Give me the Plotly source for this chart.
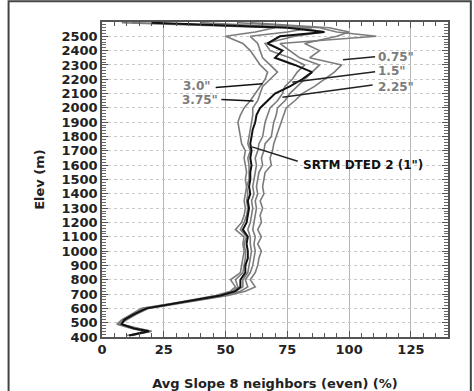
import plotly.graph_objects as go

# Elevation (m) sample levels shared by all series
elev = [410, 440, 460, 490, 520, 560, 600, 630, 660, 690, 720, 750,
        800, 850, 900, 950, 1000, 1050, 1100, 1150, 1200, 1250, 1300, 1350,
        1400, 1450, 1500, 1550, 1600, 1650, 1700, 1750, 1800, 1850, 1900, 1950,
        2000, 2050, 2100, 2150, 2200, 2250, 2300, 2350, 2400, 2450, 2500, 2530,
        2560, 2595]

# Average slope (%) per resolution
slope_srtm_1 = [11, 19, 13, 8, 9, 13, 18, 28, 38, 48, 54, 56,
                56, 58, 58, 59, 59, 58.5, 59, 57, 58.5, 59, 59.5, 59,
                60, 59.5, 60, 60, 60.5, 60, 60.5, 60, 60.5, 61, 62, 62.5,
                64, 67, 70, 76, 81, 85, 78, 70, 73, 67, 72, 90, 75, 20]
slope_375 = [12, 17, 12, 6, 8, 12, 16, 27, 37, 46, 52, 54,
             52, 56, 56.5, 57, 57.5, 57, 57.5, 54, 56.5, 57.5, 58, 57.5,
             58, 58.5, 58, 58.5, 58, 57.5, 58, 56.5, 56, 55.5, 55, 56,
             57.5, 60, 62, 64, 66, 67, 64, 62, 60, 57, 50, 62, 70, 8]
slope_30 = [11, 18, 13, 7, 8, 13, 17, 28, 38, 47, 53, 55,
            54, 57, 57.5, 58, 58, 57.5, 58.5, 56, 57.5, 58.5, 59, 58.5,
            59, 58.5, 59.5, 59.5, 59.5, 59, 60, 59, 59.5, 60, 60.5, 61,
            61, 63, 64, 65, 68, 71, 68, 65, 64, 63, 60, 75, 85, 12]
slope_225 = [10, 19, 14, 6.5, 9, 13, 17, 28, 39, 48, 54, 57,
             57, 59, 59.5, 60, 60.5, 60, 60, 59, 60, 60.5, 61, 60.5,
             61.5, 61, 61.5, 62, 62.5, 62, 63, 63.5, 65, 65.5, 66, 67,
             68, 71, 73, 74, 77, 79, 82, 76, 68, 66, 78, 90, 80, 40]
slope_15 = [12, 20, 14, 7, 9, 14, 18, 29, 40, 50, 56, 59,
            58, 60, 61, 61.5, 62, 61.5, 62, 61, 61.5, 62, 62.5, 62,
            63, 62.5, 63, 63.5, 65, 64.5, 65.5, 66, 68.5, 69, 69.5, 70.5,
            71, 74, 76, 79, 82, 85, 88, 80, 76, 72, 111, 95, 88, 55]
slope_075 = [11, 20, 15, 7.5, 10, 14, 19, 30, 41, 51, 58, 62,
             60, 62, 63, 63.5, 64.5, 63, 64.5, 63, 64.5, 64, 65, 64,
             65.5, 65, 65.5, 66, 68.5, 68, 69, 69.5, 70.5, 71.5, 72.5, 73.5,
             74.5, 78, 81, 86, 90, 94, 97, 84, 88, 82, 95, 100, 92, 60]

x_ticks = [0, 25, 50, 75, 100, 125]
y_ticks = list(range(400, 2600, 100))

GRAY = "#7c7c7c"
fig = go.Figure()
for s in [slope_375, slope_30, slope_225, slope_15, slope_075]:
    fig.add_trace(go.Scatter(x=s, y=elev, mode="lines",
                             line=dict(color=GRAY, width=1.6), showlegend=False))
fig.add_trace(go.Scatter(x=slope_srtm_1, y=elev, mode="lines",
                         line=dict(color="#111111", width=2), showlegend=False))

# Labels and leader lines
labels = [
    ('0.75"', 111, 2356, "left", GRAY, (110.5, 2358, 97.5, 2337), "#222"),
    ('1.5"', 111, 2258, "left", GRAY, (110.5, 2252, 77, 2180), "#222"),
    ('2.25"', 111, 2146, "left", GRAY, (109.5, 2160, 73, 2075), "#222"),
    ('3.0"', 45, 2151, "right", GRAY, (46, 2142, 65, 2168), "#111"),
    ('3.75"', 47.6, 2056, "right", GRAY, (48.3, 2058, 61.3, 2049), "#111"),
    ('SRTM DTED 2 (1")', 80.6, 1602, "left", "#111", (79.2, 1628, 60.7, 1728), "#222"),
]
shapes = []
annotations = []
for txt, tx, ty, anc, col, (x0, y0, x1, y1), lc in labels:
    annotations.append(dict(x=tx, y=ty, xref="x", yref="y", text=txt, showarrow=False,
                            xanchor=anc, yanchor="middle",
                            font=dict(family="DejaVu Sans", size=12, color=col, weight="bold")))
    shapes.append(dict(type="line", xref="x", yref="y", x0=x0, y0=y0, x1=x1, y1=y1,
                       line=dict(color=lc, width=1.5)))

# Outer frame
shapes.append(dict(type="rect", xref="paper", yref="paper", x0=-0.270, x1=1.066,
                   y0=-0.25, y1=1.066, line=dict(color="#444", width=2), layer="below"))

fig.update_layout(
    width=474, height=391,
    margin=dict(l=102, r=26, t=22, b=54, autoexpand=False),
    paper_bgcolor="white", plot_bgcolor="white",
    font=dict(family="DejaVu Sans", color="#222", size=13),
    shapes=shapes, annotations=annotations,
    xaxis=dict(range=[0, 140], tickvals=x_ticks, ticktext=[str(v) for v in x_ticks],
               automargin=False,
               showgrid=True, gridcolor="#b5b5b5", gridwidth=1,
               showline=True, linecolor="#555", linewidth=1.5, mirror="ticks",
               ticks="inside", ticklen=6, tickcolor="#555",
               minor=dict(dtick=5, ticks="inside", ticklen=4, tickcolor="#555", showgrid=False),
               tickfont=dict(size=13, weight="bold", color="#222"),
               title=dict(text="Avg Slope 8 neighbors (even) (%)", standoff=30,
                          font=dict(size=13, weight="bold", color="#222")),
               zeroline=False),
    yaxis=dict(range=[400, 2600], tickvals=y_ticks, ticktext=[str(v) for v in y_ticks],
               automargin=False,
               showgrid=True, gridcolor="#c8c8c8", gridwidth=1, griddash="dot",
               showline=True, linecolor="#555", linewidth=1.5, mirror="ticks",
               ticks="inside", ticklen=6, tickcolor="#555",
               minor=dict(dtick=20, ticks="inside", ticklen=4, tickcolor="#666", showgrid=False),
               tickfont=dict(size=13, weight="bold", color="#222"),
               title=dict(text="Elev (m)", standoff=14,
                          font=dict(size=13, weight="bold", color="#222")),
               zeroline=False),
)

fig.write_html("out.html")
